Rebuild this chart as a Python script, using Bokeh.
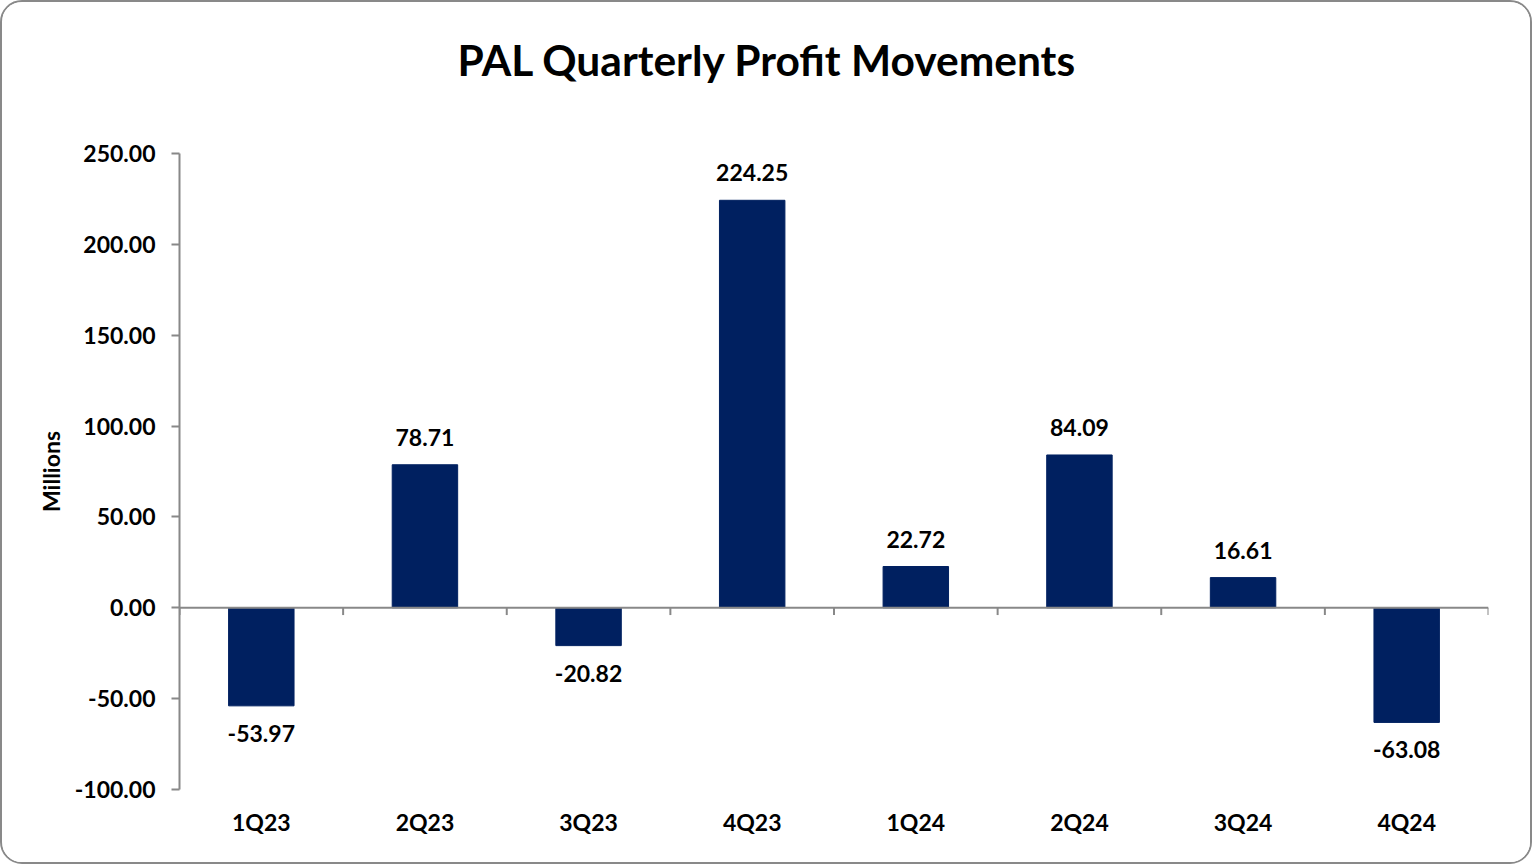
import numpy as np
from bokeh.plotting import figure
from bokeh.models import ColumnDataSource, Range1d, FixedTicker, NumeralTickFormatter, Span, Title
from bokeh.core.properties import value
from bokeh.embed import file_html
from bokeh.resources import INLINE

categories = ["1Q23", "2Q23", "3Q23", "4Q23", "1Q24", "2Q24", "3Q24", "4Q24"]
profits = [-53.97, 78.71, -20.82, 224.25, 22.72, 84.09, 16.61, -63.08]
y_ticks = [-100, -50, 0, 50, 100, 150, 200, 250]
title_text = "PAL Quarterly Profit Movements"

FONT = "Lato"
BAR = "#002060"
GREY = "#888888"

n = len(categories)
centers = np.arange(n) + 0.5
bounds = np.arange(n + 1)
labels = [f"{v:.2f}" for v in profits]

src = ColumnDataSource(dict(x=centers, top=profits, lab=labels))
pos = ColumnDataSource(dict(x=[c for c, v in zip(centers, profits) if v >= 0],
                            y=[v for v in profits if v >= 0],
                            lab=[l for l, v in zip(labels, profits) if v >= 0]))
neg = ColumnDataSource(dict(x=[c for c, v in zip(centers, profits) if v < 0],
                            y=[v for v in profits if v < 0],
                            lab=[l for l, v in zip(labels, profits) if v < 0]))

W, H = 1532, 864
p = figure(width=W, height=H, output_backend="svg", toolbar_location=None,
           x_range=Range1d(0, n), y_range=Range1d(min(y_ticks), max(y_ticks)),
           min_border_left=177, min_border_right=46, min_border_top=151, min_border_bottom=77)
p.styles = {"border": "2px solid #898989", "border-radius": "22px", "overflow": "hidden"}
p.outline_line_color = None
p.grid.visible = False
p.background_fill_color = "white"
p.border_fill_color = "white"

# spacer between title and plot area, then the title itself
p.add_layout(Title(text=" ", text_font_size="10px", standoff=46), "above")
p.add_layout(Title(text=title_text, align="left", offset=278, standoff=20, text_font=FONT,
                   text_font_size="42.5px", text_font_style="bold", text_color="black"), "above")

p.vbar(x="x", top="top", bottom=0, width=0.4, source=src, fill_color=BAR, line_color=BAR)

# zero line with category-boundary ticks
p.add_layout(Span(location=0, dimension="width", line_color=GREY, line_width=2))
p.segment(x0=bounds, y0=np.zeros(n + 1), x1=bounds, y1=np.full(n + 1, -4.0),
          line_color=GREY, line_width=2)

p.text(x="x", y="y", text="lab", source=pos, text_align="center", text_baseline="bottom",
       y_offset=-19, text_font=value(FONT), text_font_size="23px", text_font_style="bold",
       text_color="black")
p.text(x="x", y="y", text="lab", source=neg, text_align="center", text_baseline="top",
       y_offset=19, text_font=value(FONT), text_font_size="23px", text_font_style="bold",
       text_color="black")

yax = p.yaxis[0]
yax.ticker = FixedTicker(ticks=y_ticks)
yax.formatter = NumeralTickFormatter(format="0.00")
yax.axis_line_color = GREY
yax.axis_line_width = 2
yax.major_tick_line_color = GREY
yax.major_tick_line_width = 2
yax.major_tick_out = 8
yax.major_tick_in = 0
yax.minor_tick_line_color = None
yax.major_label_text_font = FONT
yax.major_label_text_font_size = "23px"
yax.major_label_text_font_style = "bold"
yax.major_label_text_color = "black"
yax.major_label_standoff = 16
yax.axis_label = "Millions"
yax.axis_label_text_font = FONT
yax.axis_label_text_font_size = "23px"
yax.axis_label_text_font_style = "bold"
yax.axis_label_text_color = "black"
yax.axis_label_standoff = 7

xax = p.xaxis[0]
xax.ticker = FixedTicker(ticks=list(centers))
xax.major_label_overrides = {float(c): cat for c, cat in zip(centers, categories)}
xax.axis_line_color = None
xax.major_tick_line_color = None
xax.minor_tick_line_color = None
xax.major_label_text_font = FONT
xax.major_label_text_font_size = "23px"
xax.major_label_text_font_style = "bold"
xax.major_label_text_color = "black"
xax.major_label_standoff = 12

open("out.html", "w").write(file_html(p, INLINE))
